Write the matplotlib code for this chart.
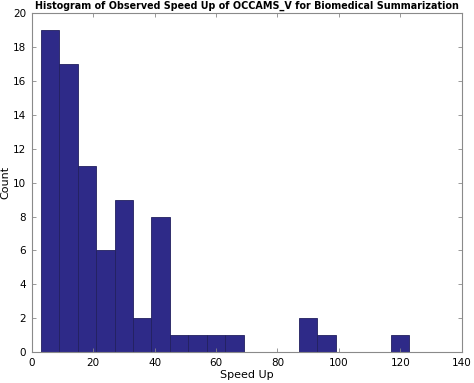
import numpy as np
import matplotlib
matplotlib.use("Agg")
import matplotlib.pyplot as plt

# histogram bins (MATLAB hist, 20 bins from 3 to 123)
bin_edges = [3, 9, 15, 21, 27, 33, 39, 45, 51, 57, 63, 69, 75, 81, 87, 93, 99, 105, 111, 117, 123]
counts = [19, 17, 11, 6, 9, 2, 8, 1, 1, 1, 1, 0, 0, 0, 2, 1, 0, 0, 0, 1]

xticks = [0, 20, 40, 60, 80, 100, 120, 140]
yticks = [0, 2, 4, 6, 8, 10, 12, 14, 16, 18, 20]

plt.rcParams['font.family'] = ['DejaVu Sans']

fig = plt.figure(figsize=(4.74, 3.83), dpi=100)
ax = fig.add_axes([31.7 / 474, 1 - 352 / 383, (461.7 - 31.7) / 474, (352 - 13.4) / 383])

lefts = np.array(bin_edges[:-1])
widths = np.diff(bin_edges)
ax.bar(lefts, counts, width=widths, align='edge', color='#2e2a88',
       edgecolor='#22205f', linewidth=0.6)

ax.set_xlim(0, 140)
ax.set_ylim(0, 20)
ax.set_xticks(xticks)
ax.set_yticks(yticks)
ax.tick_params(direction='in', length=3, width=0.6, color='#888888',
               labelsize=7.5, top=True, right=True, pad=4)
for s in ax.spines.values():
    s.set_color('#8a8a8a')
    s.set_linewidth(0.8)

ax.set_xlabel('Speed Up', fontsize=8, labelpad=2)
ax.set_ylabel('Count', fontsize=8, labelpad=2)
ax.set_title('Histogram of Observed Speed Up of OCCAMS_V for Biomedical Summarization',
             fontsize=6.9, fontweight='bold', pad=3)

fig.savefig('out.png', dpi=100)
